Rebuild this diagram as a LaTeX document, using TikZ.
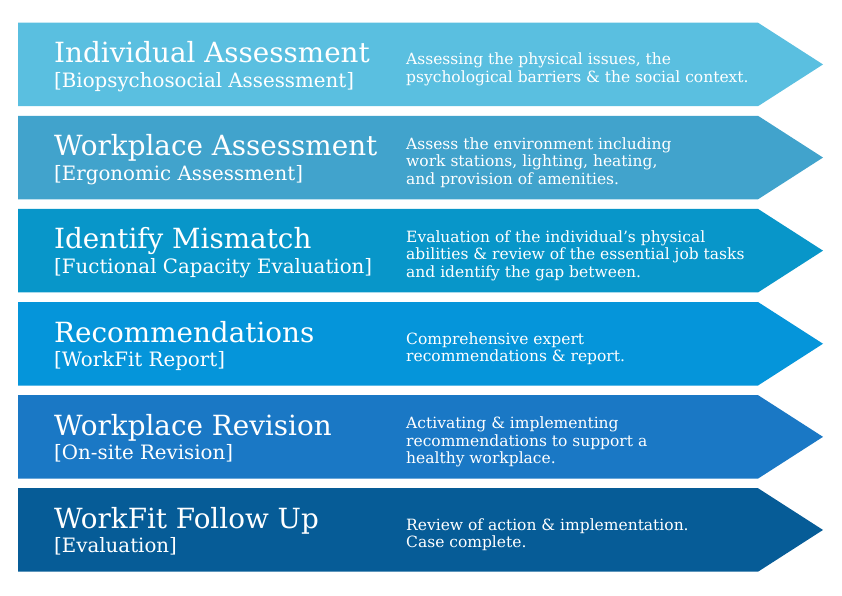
\documentclass[tikz,border=0pt]{standalone}
\usepackage{fontspec}
\setmainfont{DejaVu Serif}
\definecolor{bandA}{HTML}{5ABFE0}
\definecolor{bandB}{HTML}{41A3CC}
\definecolor{bandC}{HTML}{0896C9}
\definecolor{bandD}{HTML}{0595DA}
\definecolor{bandE}{HTML}{1A78C5}
\definecolor{bandF}{HTML}{065C97}
\tikzset{
    steptitle/.style={anchor=base west, inner sep=0pt, text=white, font=\fontsize{27.8}{30}\selectfont},
    stepsub/.style={anchor=base west, inner sep=0pt, text=white, font=\fontsize{19.8}{22}\selectfont},
    stepdesc/.style={anchor=west, inner sep=0pt, text=white, align=left, font=\fontsize{15.5}{17.5}\selectfont}
}
\begin{document}
\begin{tikzpicture}[x=1pt, y=-1pt]
        \useasboundingbox (0,0) rectangle (842,596);
        \def\h{83.5}
        \foreach \i/\col/\title/\sub/\desc in {
            1/bandA/{Individual Assessment}/{[Biopsychosocial Assessment]}/{Assessing the physical issues, the\\psychological barriers \& the social context.},
            2/bandB/{Workplace Assessment}/{[Ergonomic Assessment]}/{Assess the environment including\\work stations, lighting, heating,\\and provision of amenities.},
            3/bandC/{Identify Mismatch}/{[Fuctional Capacity Evaluation]}/{Evaluation of the individual’s physical\\abilities \& review of the essential job tasks\\and identify the gap between.},
            4/bandD/{Recommendations}/{[WorkFit Report]}/{Comprehensive expert\\recommendations \& report.},
            5/bandE/{Workplace Revision}/{[On-site Revision]}/{Activating \& implementing\\recommendations to support a\\healthy workplace.},
            6/bandF/{WorkFit Follow Up}/{[Evaluation]}/{Review of action \& implementation.\\Case complete.}} {
            \pgfmathsetmacro\top{22.7 + 93.1*(\i - 1)}
            \fill[\col] (18, \top) -- (758, \top) -- (823, \top + \h/2) -- (758, \top + \h) -- (18, \top + \h) -- cycle;
            \node[steptitle] (title\i) at (54, \top + 40) {\title};
            \node[stepsub] (sub\i) at (54, \top + 64.5) {\sub};
            \node[stepdesc] (desc\i) at (406, \top + \h/2 + 5) {\desc};
        }
    \end{tikzpicture}
\end{document}
